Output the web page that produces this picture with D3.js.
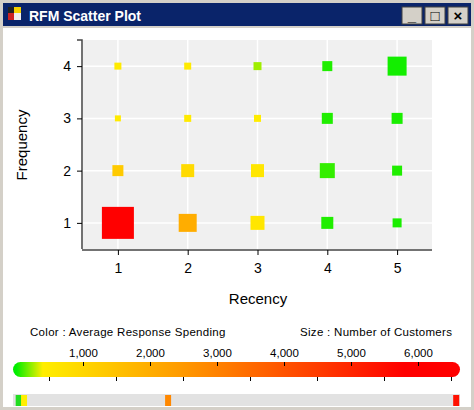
<!DOCTYPE html>
<html><head><meta charset="utf-8">
<script src="https://cdn.jsdelivr.net/npm/d3@7"></script>
<style>body{margin:0;background:#d4d0c8}svg{display:block;font-family:Arial,"Liberation Sans",sans-serif}</style>
</head><body>
<script>
// RFM cells: recency, frequency, customers (square side), avg spending
const recency   = [1,2,3,4,5, 1,2,3,4,5, 1,2,3,4,5, 1,2,3,4,5];
const frequency = [1,1,1,1,1, 2,2,2,2,2, 3,3,3,3,3, 4,4,4,4,4];
const customers = [32,18,14,12,9, 11,13,13,15,10, 6,7,7,11,11, 7,7,8,10,19];
const spending  = [6500,2000,600,50,40, 1300,900,600,80,50, 500,500,450,50,40, 500,500,250,50,30];
const xTicks = [1,2,3,4,5], yTicks = [1,2,3,4];
const legendTicks = [1000,2000,3000,4000,5000,6000];
const stripMarks = [[40,"#22dd22"],[120,"#ffee00"],[2270,"#ff8800"],[6570,"#ff1100"]];

const W = 474, H = 410;
const svg = d3.select("body").append("svg").attr("width", W).attr("height", H);

// window frame
svg.append("rect").attr("width", W).attr("height", H).attr("fill", "#d4d0c8");
svg.append("rect").attr("x", 3).attr("y", 28).attr("width", W-6).attr("height", H-31).attr("fill", "#fff");
svg.append("defs");
svg.append("rect").attr("x", 3).attr("y", 3).attr("width", W-6).attr("height", 23).attr("fill", "#0a246a");
svg.append("rect").attr("x", 8).attr("y", 7).attr("width", 7).attr("height", 7).attr("fill", "#222");
svg.append("rect").attr("x", 14).attr("y", 7).attr("width", 7).attr("height", 7).attr("fill", "#f5d000");
svg.append("rect").attr("x", 8).attr("y", 13).attr("width", 7).attr("height", 7).attr("fill", "#cc2222");
svg.append("rect").attr("x", 14).attr("y", 13).attr("width", 7).attr("height", 7).attr("fill", "#eee");
svg.append("text").attr("x", 29).attr("y", 21).attr("fill", "#fff").attr("font-weight", "bold")
  .attr("font-size", 14).text("RFM Scatter Plot");
["_", "□", "×"].forEach((s, i) => {
  const bx = 402 + i*23;
  svg.append("rect").attr("x", bx).attr("y", 7).attr("width", 20).attr("height", 17)
    .attr("fill", "#d4d0c8").attr("stroke", "#404040");
  svg.append("text").attr("x", bx+10).attr("y", 21).attr("text-anchor", "middle")
    .attr("font-weight", "bold").attr("font-size", 15).text(s);
});

// plot
const x = d3.scaleLinear().domain([0.5, 5.5]).range([83, 432]);
const y = d3.scaleLinear().domain([0.5, 4.5]).range([249, 40]);
svg.append("rect").attr("x", 83).attr("y", 40).attr("width", 349).attr("height", 209).attr("fill", "#f0f0f0");
svg.append("g").selectAll("line").data(xTicks).join("line")
  .attr("x1", d => x(d)).attr("x2", d => x(d)).attr("y1", 40).attr("y2", 249).attr("stroke", "#fff").attr("stroke-width", 1.5);
svg.append("g").selectAll("line").data(yTicks).join("line")
  .attr("y1", d => y(d)).attr("y2", d => y(d)).attr("x1", 83).attr("x2", 432).attr("stroke", "#fff").attr("stroke-width", 1.5);

const color = d3.scaleLinear().domain([0, 400, 2500, 5800]).range(["#00ee00", "#ffee00", "#ff9900", "#ff0000"]).clamp(true);
svg.append("g").selectAll("rect").data(recency).join("rect")
  .attr("x", (d, i) => x(d) - customers[i]/2).attr("y", (d, i) => y(frequency[i]) - customers[i]/2)
  .attr("width", (d, i) => customers[i]).attr("height", (d, i) => customers[i])
  .attr("fill", (d, i) => color(spending[i]));

const xa = svg.append("g").attr("transform", "translate(0,250)")
  .call(d3.axisBottom(x).tickValues(xTicks).tickSize(5).tickPadding(8).tickFormat(d3.format("d")));
const ya = svg.append("g").attr("transform", "translate(82,0)")
  .call(d3.axisLeft(y).tickValues(yTicks).tickSize(5).tickPadding(6).tickFormat(d3.format("d")));
[xa, ya].forEach(a => { a.selectAll("text").attr("font-size", 14).attr("fill", "#000"); a.select(".domain").attr("stroke", "#444").attr("stroke-width", 1.5); });
ya.select(".domain").attr("d", "M-5,40H0V249");
xa.select(".domain").attr("d", "M82,0H432");
svg.append("text").attr("x", 258).attr("y", 304).attr("text-anchor", "middle").attr("font-size", 15).text("Recency");
svg.append("text").attr("transform", "translate(27,145) rotate(-90)").attr("text-anchor", "middle").attr("font-size", 15).text("Frequency");

// legend
svg.append("text").attr("x", 30).attr("y", 336).attr("font-size", 11.5).attr("letter-spacing", 0.3).text("Color :  Average Response Spending");
svg.append("text").attr("x", 300).attr("y", 336).attr("font-size", 11.5).attr("letter-spacing", 0.3).text("Size :  Number of Customers");
const lx = d3.scaleLinear().domain([0, 1000]).range([16, 83]);
const lg = svg.select("defs").append("linearGradient").attr("id", "lg").attr("gradientUnits", "userSpaceOnUse")
  .attr("x1", 14).attr("x2", 460);
d3.range(0, 6700, 200).forEach(v => lg.append("stop").attr("offset", (lx(v)-14)/446).attr("stop-color", color(v)));
svg.append("rect").attr("x", 13).attr("y", 362).attr("width", 447).attr("height", 15).attr("rx", 7.5).attr("fill", "url(#lg)");
svg.append("g").attr("transform", "translate(0,366)")
  .call(d3.axisTop(lx).tickValues(legendTicks).tickSize(4).tickFormat(d3.format(",")).tickPadding(5))
  .call(g => { g.select(".domain").remove(); g.selectAll("text").attr("font-size", 11.5).attr("fill", "#000"); });
svg.append("g").selectAll("line").data(d3.range(500, 6600, 1000)).join("line")
  .attr("x1", d => lx(d)).attr("x2", d => lx(d)).attr("y1", 377).attr("y2", 381).attr("stroke", "#000");
svg.append("rect").attr("x", 13).attr("y", 394).attr("width", 447).attr("height", 12).attr("fill", "#e2e2e2");
svg.append("g").selectAll("rect").data(stripMarks).join("rect")
  .attr("x", d => lx(d[0]) - 3).attr("y", 395).attr("width", 6).attr("height", 11).attr("fill", d => d[1]);
</script>
</body></html>
